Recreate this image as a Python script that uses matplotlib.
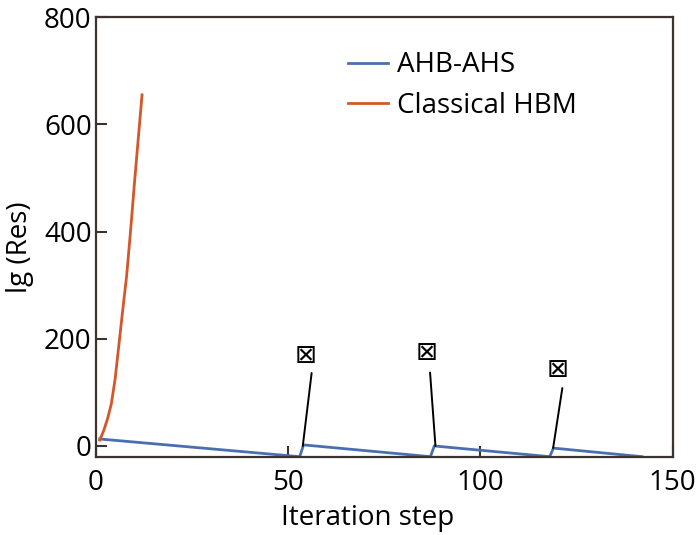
import numpy as np
import matplotlib.pyplot as plt

plt.rcParams['font.family'] = ['Open Sans', 'DejaVu Sans']

# AHB-AHS residual history (restarts at each jump)
ahb_step = [1, 53, 54, 87, 88, 118, 119, 142]
ahb_res = [13, -20, 2, -20, 0, -20, -4, -20]

# classical HBM diverges
hbm_step = [1, 2, 3, 4, 5, 6, 7, 8, 9, 10, 11, 12]
hbm_res = [11, 28, 50, 78, 125, 190, 255, 318, 400, 488, 572, 655]

# markers above the restart points: (text x, text y, line top x, line top y, line end x, line end y)
marks = [(54.5, 167, 56.1, 136, 53.8, 0),
         (86.0, 172, 86.9, 137, 88.3, 0),
         (120.1, 140, 121.3, 108, 118.9, -4)]

fig = plt.figure(figsize=(7, 5.35), dpi=100)
ax = fig.add_axes([0.137, 0.1464, 0.824, 0.8216])

ax.plot(ahb_step, ahb_res, color='#4a6fb0', linewidth=2, label='AHB-AHS')
ax.plot(hbm_step, hbm_res, color='#d4572a', linewidth=2, label='Classical HBM')

for tx, ty, x0, y0, x1, y1 in marks:
    ax.annotate('', xy=(x1, y1), xytext=(x0, y0),
                arrowprops=dict(arrowstyle='-', color='black', lw=1.4, shrinkA=0, shrinkB=0))
    ax.text(tx, ty, '\u22a0', fontsize=19, ha='center', va='center')

ax.set_xlim(0, 150)
ax.set_ylim(-20, 800)
ax.set_xticks([0, 50, 100, 150])
ax.set_yticks([0, 200, 400, 600, 800])
ax.tick_params(direction='in', length=8, width=1.5, labelsize=20, color='#3a3330')
ax.tick_params(axis='x', pad=9)
ax.tick_params(axis='y', pad=3)
for s in ax.spines.values():
    s.set_linewidth(1.6)
    s.set_color('#3a3330')

ax.set_xlabel('Iteration step', fontsize=20)
ax.xaxis.set_label_coords(0.471, -0.107)
ax.set_ylabel('lg (Res)', fontsize=20)
ax.yaxis.set_label_coords(-0.108, 0.476)

ax.legend(loc='upper left', bbox_to_anchor=(0.437, 0.922), frameon=False, fontsize=20,
          handlelength=1.44, handletextpad=0.32, labelspacing=0.45, borderaxespad=0,
          borderpad=0)

fig.savefig('out.png')
